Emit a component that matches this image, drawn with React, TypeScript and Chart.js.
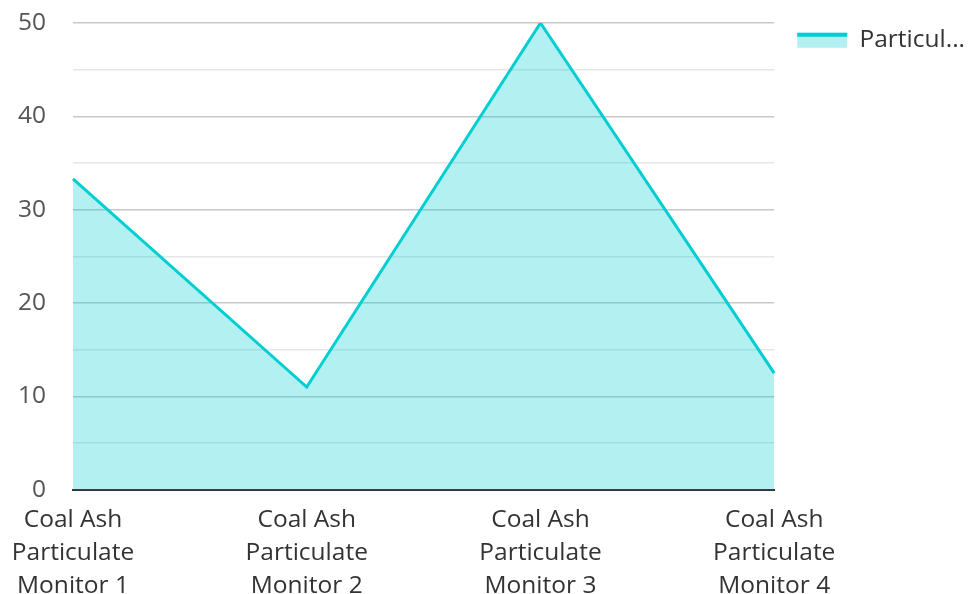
import React, { useEffect, useRef } from "react";
import { Chart, registerables } from "chart.js";

Chart.register(...registerables);

const categories: string[][] = [
  ["Coal Ash", "Particulate", "Monitor 1"],
  ["Coal Ash", "Particulate", "Monitor 2"],
  ["Coal Ash", "Particulate", "Monitor 3"],
  ["Coal Ash", "Particulate", "Monitor 4"],
];
const seriesLabel = "Particul...";
const seriesValues: number[] = [33.3, 11.0, 50.0, 12.5];
const yTickLabels: number[] = [0, 10, 20, 30, 40, 50];

const LINE = "rgb(0,206,209)";
const FILL = "rgba(0,206,209,0.3)";
const FONT = "'Open Sans', 'Noto Sans', sans-serif";

export default function App() {
  const ref = useRef<HTMLCanvasElement | null>(null);
  useEffect(() => {
    document.body.style.margin = "0";
    document.body.style.overflow = "hidden";
    if (!ref.current) return;
    const legendLine = {
      id: "legendLine",
      afterDraw(chart: any) {
        const lg = chart.legend;
        if (!lg || !lg.legendHitBoxes) return;
        const ctx = chart.ctx;
        const bw = lg.options.labels.boxWidth;
        const bh = lg.options.labels.boxHeight;
        lg.legendHitBoxes.forEach((hb: any) => {
          const top = hb.top + (hb.height - bh) / 2;
          ctx.save();
          ctx.fillStyle = LINE;
          ctx.fillRect(hb.left, top, bw, 4);
          ctx.restore();
        });
      },
    };
    const chart = new Chart(ref.current, {
      type: "line",
      data: {
        labels: categories,
        datasets: [
          {
            label: seriesLabel,
            data: seriesValues,
            borderColor: LINE,
            backgroundColor: FILL,
            borderWidth: 3,
            fill: "origin",
            pointRadius: 0,
            tension: 0,
          },
        ],
      },
      options: {
        animation: false,
        responsive: false,
        maintainAspectRatio: false,
        layout: { padding: { top: 0, left: 18, right: 0, bottom: 0 } },
        plugins: {
          tooltip: { enabled: false },
          legend: {
            position: "right",
            align: "start",
            title: {
              display: true,
              text: "",
              font: { size: 1, lineHeight: 1 },
              padding: { top: 4, bottom: 0 },
            },
            labels: {
              boxWidth: 50,
              boxHeight: 15,
              padding: 23,
              color: "#333",
              font: { family: FONT, size: 24.5 },
              generateLabels: (c: any) =>
                c.data.datasets.map((d: any, i: number) => ({
                  text: d.label,
                  fillStyle: FILL,
                  strokeStyle: FILL,
                  lineWidth: 0,
                  hidden: false,
                  datasetIndex: i,
                  fontColor: "#333",
                })),
            },
          },
        },
        scales: {
          x: {
            offset: false,
            grid: { display: false, drawTicks: false },
            border: { display: true, color: "#333", width: 2 },
            ticks: {
              color: "#333",
              font: { family: FONT, size: 24.5, lineHeight: 1.35 },
              maxRotation: 0,
              autoSkip: false,
              padding: 14,
            },
            afterFit: (s: any) => {
              s.paddingLeft = 0;
              s.paddingRight = 0;
            },
          },
          y: {
            min: 0,
            max: 50,
            grid: {
              drawTicks: false,
              color: (ctx: any) =>
                ctx.tick && ctx.tick.value % 10 === 0 ? "#c8c8c8" : "#e6e6e6",
              lineWidth: 1.5,
            },
            border: { display: false },
            ticks: {
              stepSize: 5,
              color: "#555",
              padding: 27,
              font: { family: FONT, size: 24.5 },
              callback: (v: any) =>
                yTickLabels.includes(Number(v)) ? String(v) : "",
            },
            afterFit: (s: any) => {
              s.paddingTop = 23;
              s.width = 55;
            },
          },
        },
      },
      plugins: [legendLine],
    });
    return () => chart.destroy();
  }, []);
  return <canvas ref={ref} width={975} height={617} style={{ display: "block" }} />;
}
